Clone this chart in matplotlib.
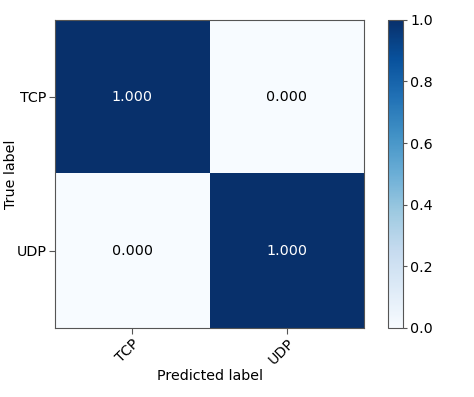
import numpy as np
import matplotlib
matplotlib.use('Agg')
import matplotlib.pyplot as plt

classes = ['TCP', 'UDP']
cm = np.array([[1.0, 0.0],
               [0.0, 1.0]])

fig = plt.figure(figsize=(4.74, 3.97), dpi=100)
ax = fig.add_axes([0.116, 0.174, 0.652, 0.776])
cax = fig.add_axes([0.819, 0.174, 0.032, 0.776])

im = ax.imshow(cm, interpolation='nearest', cmap=plt.cm.Blues, vmin=0, vmax=1, aspect='auto')
cb = fig.colorbar(im, cax=cax)
cb.outline.set_edgecolor('#555555')
cb.ax.tick_params(labelsize=10.3, length=3, pad=2, color='#555555')

ax.set_xticks(np.arange(len(classes)))
ax.set_yticks(np.arange(len(classes)))
ax.set_xticklabels(classes, rotation=45, ha='right', rotation_mode='anchor', fontsize=10.3)
ax.set_yticklabels(classes, fontsize=10.3)
ax.tick_params(length=4, pad=2, color='#555555')
for s in ax.spines.values():
    s.set_edgecolor('#555555')

thresh = cm.max() / 2.
for i in range(cm.shape[0]):
    for j in range(cm.shape[1]):
        ax.text(j, i, format(cm[i, j], '.3f'), ha='center', va='center', fontsize=10.3,
                color='white' if cm[i, j] > thresh else 'black')

ax.set_ylabel('True label', fontsize=10.3, labelpad=-1)
ax.set_xlabel('Predicted label', fontsize=10.3, labelpad=1)

fig.savefig('out.png', dpi=100)
